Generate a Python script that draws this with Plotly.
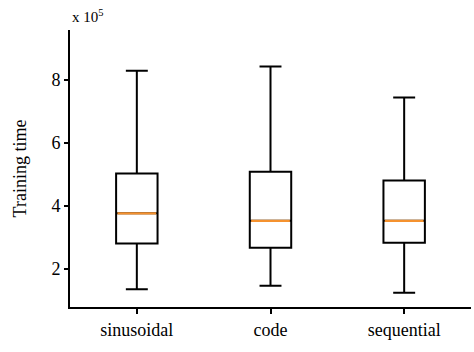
import plotly.graph_objects as go

categories = ["sinusoidal", "code", "sequential"]
lower = [1.36, 1.47, 1.25]
q1 = [2.81, 2.68, 2.84]
median = [3.77, 3.53, 3.53]
q3 = [5.03, 5.09, 4.81]
upper = [8.29, 8.42, 7.44]
y_ticks = [2, 4, 6, 8]

FONT = "Liberation Serif"
box_w = 0.31
xs = list(range(len(categories)))

fig = go.Figure()
fig.add_trace(go.Box(
    x=xs, q1=q1, median=median, q3=q3, lowerfence=lower, upperfence=upper,
    width=box_w, whiskerwidth=0.53, fillcolor="rgba(0,0,0,0)",
    line=dict(color="black", width=2), boxpoints=False, showlegend=False,
    hoverinfo="skip"))
for i, m in zip(xs, median):
    fig.add_trace(go.Scatter(
        x=[i - box_w / 2 + 0.01, i + box_w / 2 - 0.01], y=[m, m], mode="lines",
        line=dict(color="#f5922f", width=2.2), showlegend=False, hoverinfo="skip"))

fig.update_layout(
    width=474, height=352, margin=dict(l=70, r=3, t=30, b=45),
    plot_bgcolor="white", paper_bgcolor="white",
    font=dict(family=FONT, size=18, color="black"),
    xaxis=dict(range=[-0.5, 2.5], tickvals=xs, ticktext=categories,
               showline=True, linecolor="black", linewidth=2, showgrid=False,
               zeroline=False, ticks="outside", ticklen=5, tickwidth=1.5,
               tickcolor="black", tickfont=dict(size=18, family=FONT)),
    yaxis=dict(range=[0.8, 9.58], tickvals=y_ticks,
               showline=True, linecolor="black", linewidth=2, showgrid=False,
               zeroline=False, ticks="outside", ticklen=4, tickwidth=1.5,
               tickcolor="black", tickfont=dict(size=18, family=FONT),
               title=dict(text="Training time", font=dict(size=18, family=FONT),
                          standoff=20)),
    annotations=[dict(text="x 10<sup>5</sup>", xref="paper", yref="paper",
                      x=0, y=1, xanchor="left", yanchor="bottom", yshift=3,
                      showarrow=False, font=dict(size=15, family=FONT))],
)
fig.write_html("out.html")
